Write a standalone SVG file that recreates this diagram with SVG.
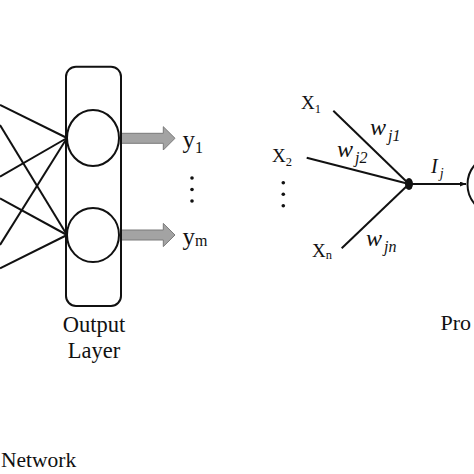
<svg xmlns="http://www.w3.org/2000/svg" width="474" height="474" viewBox="0 0 474 474">
<defs>
<style>
.ln{stroke:#111;stroke-width:2;fill:none}
.nd{stroke:#111;stroke-width:2;fill:#fff}
.t{font-family:"Liberation Serif","Times New Roman",serif;fill:#111}
.it{font-style:italic}
.ga{fill:#a3a3a3;stroke:#7a7a7a;stroke-width:1}
.dot{fill:#111}
</style>
<marker id="ah" viewBox="0 0 10 10" refX="10" refY="5" markerWidth="6" markerHeight="5" markerUnits="userSpaceOnUse" orient="auto" preserveAspectRatio="none">
<path d="M0,0 L10,5 L0,10 Z" fill="#111"/>
</marker>
</defs>
<rect width="474" height="474" fill="#fff"/>
<g id="connectors">
<line class="ln" x1="0" y1="105" x2="67" y2="138"/>
<line class="ln" x1="0" y1="176.7" x2="67" y2="138"/>
<line class="ln" x1="0" y1="245" x2="67" y2="138"/>
<line class="ln" x1="0" y1="125" x2="67" y2="235"/>
<line class="ln" x1="0" y1="198.3" x2="67" y2="235"/>
<line class="ln" x1="0" y1="268.3" x2="67" y2="235"/>
<path class="ga" d="M121,133.3 H163.3 V126.7 L175,138.3 L163.3,150 V143.3 H121 Z"/>
<path class="ga" d="M121,230 H163.3 V223.4 L175,235 L163.3,246.6 V240 H121 Z"/>
<line class="ln" x1="333.3" y1="110.7" x2="409" y2="184"/>
<line class="ln" x1="306.7" y1="157.7" x2="409" y2="184"/>
<line class="ln" x1="341.7" y1="248.3" x2="409" y2="184"/>
<line class="ln" x1="409" y1="184" x2="466" y2="184" marker-end="url(#ah)"/>
</g>
<g id="output-layer">
<rect class="ln" x="66" y="66.7" width="55" height="239.3" rx="10" ry="10"/>
<text class="t" x="94" y="331.7" font-size="22.5" text-anchor="middle">Output</text>
<text class="t" x="94" y="357.7" font-size="22.5" text-anchor="middle">Layer</text>
</g>
<g id="output-node-1">
<ellipse class="nd" cx="93" cy="138" rx="26" ry="28"/>
</g>
<g id="output-node-2">
<ellipse class="nd" cx="93" cy="235" rx="26" ry="27"/>
</g>
<g id="outputs">
<text class="t" x="182.5" y="148" font-size="25">y<tspan font-size="16" dy="4.5">1</tspan></text>
<circle class="dot" cx="192" cy="178" r="1.8"/>
<circle class="dot" cx="192" cy="189.5" r="1.8"/>
<circle class="dot" cx="192" cy="201" r="1.8"/>
<text class="t" x="182.5" y="245" font-size="25">y<tspan font-size="16" dy="1">m</tspan></text>
</g>
<g id="inputs">
<text class="t" x="301" y="109" font-size="19">X<tspan font-size="12.5" dy="3.5">1</tspan></text>
<text class="t" x="272" y="162" font-size="19">X<tspan font-size="12.5" dy="3.5">2</tspan></text>
<circle class="dot" cx="283.3" cy="182.7" r="1.8"/>
<circle class="dot" cx="283.3" cy="194.3" r="1.8"/>
<circle class="dot" cx="283.3" cy="205.7" r="1.8"/>
<text class="t" x="312" y="256.7" font-size="19">X<tspan font-size="12.5" dy="2.5">n</tspan></text>
</g>
<g id="weights">
<text class="t it" x="370" y="135" font-size="24">w<tspan font-size="16" dx="2" dy="6">j1</tspan></text>
<text class="t it" x="337" y="156.5" font-size="24">w<tspan font-size="16" dx="2" dy="6.5">j2</tspan></text>
<text class="t it" x="366" y="246" font-size="24">w<tspan font-size="16" dx="2" dy="5.5">jn</tspan></text>
<text class="t it" x="431" y="173.3" font-size="20">I<tspan font-size="14" dx="2" dy="5">j</tspan></text>
</g>
<g id="summing-node">
<ellipse class="dot" cx="409" cy="184" rx="4" ry="6"/>
</g>
<g id="processing-element">
<circle class="ln" cx="497.5" cy="184.5" r="30"/>
<text class="t" x="440.5" y="330" font-size="22">Pro</text>
</g>
<g id="caption">
<text class="t" x="1" y="466.7" font-size="21.5">Network</text>
</g>
</svg>
